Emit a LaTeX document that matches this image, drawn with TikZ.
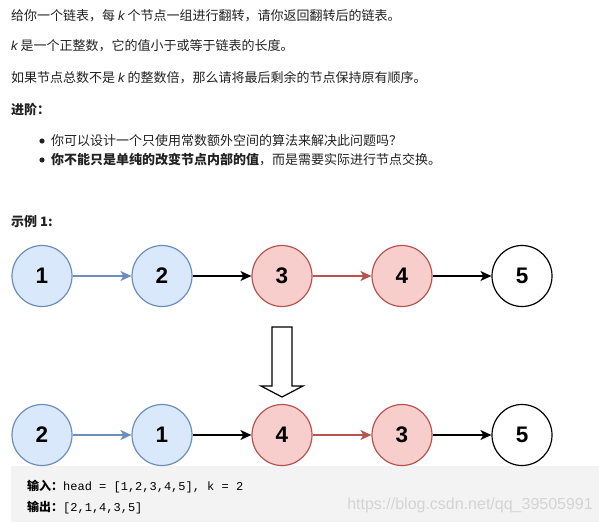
\documentclass[tikz,border=0pt]{standalone}
\usepackage{fontspec}
\setmainfont{Noto Sans CJK SC}
\newfontfamily\numfont{Liberation Sans}
\newfontfamily\kfont{Liberation Sans}
\newfontfamily\codefont{Liberation Mono}
\usetikzlibrary{shapes.geometric,arrows.meta}
\definecolor{bluefill}{HTML}{DAE8FC}
\definecolor{bluedraw}{HTML}{6C8EBF}
\definecolor{redfill}{HTML}{F8CECC}
\definecolor{reddraw}{HTML}{B85450}
\definecolor{txt}{HTML}{222222}
\definecolor{codebg}{HTML}{F3F3F3}
\definecolor{wmark}{HTML}{D4D4D4}
\newcommand{\kk}{{\kfont\itshape k}}
\begin{document}
\begin{tikzpicture}[x=1pt,y=-1pt,
  line/.style={anchor=west,inner sep=0pt,text=txt,font=\fontsize{13}{15}\selectfont},
  nd/.style={ellipse,draw,line width=1.2pt,minimum width=60pt,minimum height=61pt,inner sep=0pt,font=\numfont\bfseries\fontsize{22.5}{24}\selectfont},
  bnd/.style={nd,fill=bluefill,draw=bluedraw},
  rnd/.style={nd,fill=redfill,draw=reddraw},
  wnd/.style={nd,fill=white,draw=black},
  conn/.style={line width=1.3pt,-{Stealth[length=11pt,width=10pt,inset=3pt]}},
  codet/.style={anchor=west,inner sep=0pt,text=black,font=\fontsize{12}{14}\selectfont}
]
\useasboundingbox (0,0) rectangle (599,522);
\fill[white] (0,0) rectangle (599,522);

\node[line] (t1) at (11,16) {给你一个链表，每 \kk{} 个节点一组进行翻转，请你返回翻转后的链表。};
\node[line] (t2) at (11,46) {\kk{} 是一个正整数，它的值小于或等于链表的长度。};
\node[line] (t3) at (11,78) {如果节点总数不是 \kk{} 的整数倍，那么请将最后剩余的节点保持原有顺序。};
\node[line,font=\bfseries\fontsize{13}{15}\selectfont] (t4) at (11,110) {进阶：};
\fill[txt] (42,141) circle (2.6pt);
\fill[txt] (42,160) circle (2.6pt);
\node[line] (b1) at (51,141) {你可以设计一个只使用常数额外空间的算法来解决此问题吗？};
\node[line] (b2) at (51,160) {{\bfseries 你不能只是单纯的改变节点内部的值}，而是需要实际进行节点交换。};
\node[line,font=\bfseries\fontsize{13}{15}\selectfont] (ex) at (11,222) {示例 1:};

% row 1
\node[bnd] (a1) at (42,276) {1};
\node[bnd] (a2) at (162,276) {2};
\node[rnd] (a3) at (282,276) {3};
\node[rnd] (a4) at (402,276) {4};
\node[wnd] (a5) at (522,276) {5};
\draw[conn,bluedraw] (a1) -- (a2);
\draw[conn,black] (a2) -- (a3);
\draw[conn,reddraw] (a3) -- (a4);
\draw[conn,black] (a4) -- (a5);

% big arrow
\draw[line width=1.2pt,fill=white,line join=miter] (272,327) -- (292,327) -- (292,386) -- (303,386) -- (282,397) -- (261,386) -- (272,386) -- cycle;

% code box
\fill[codebg] (11,466) rectangle (599,522);

% row 2
\node[bnd] (c1) at (42,435) {2};
\node[bnd] (c2) at (162,435) {1};
\node[rnd] (c3) at (282,435) {4};
\node[rnd] (c4) at (402,435) {3};
\node[wnd] (c5) at (522,435) {5};
\draw[conn,bluedraw] (c1) -- (c2);
\draw[conn,black] (c2) -- (c3);
\draw[conn,reddraw] (c3) -- (c4);
\draw[conn,black] (c4) -- (c5);

\node[codet] (in) at (27,487) {{\bfseries 输入：}{\codefont\fontsize{12}{14}\selectfont head = [1,2,3,4,5], k = 2}};
\node[codet] (out) at (27,508) {{\bfseries 输出：}{\codefont\fontsize{12}{14}\selectfont [2,1,4,3,5]}};
\node[anchor=east,inner sep=0pt,text=wmark,font=\numfont\fontsize{16}{18}\selectfont] (wm) at (593,505) {https://blog.csdn.net/qq\_39505991};
\end{tikzpicture}
\end{document}
